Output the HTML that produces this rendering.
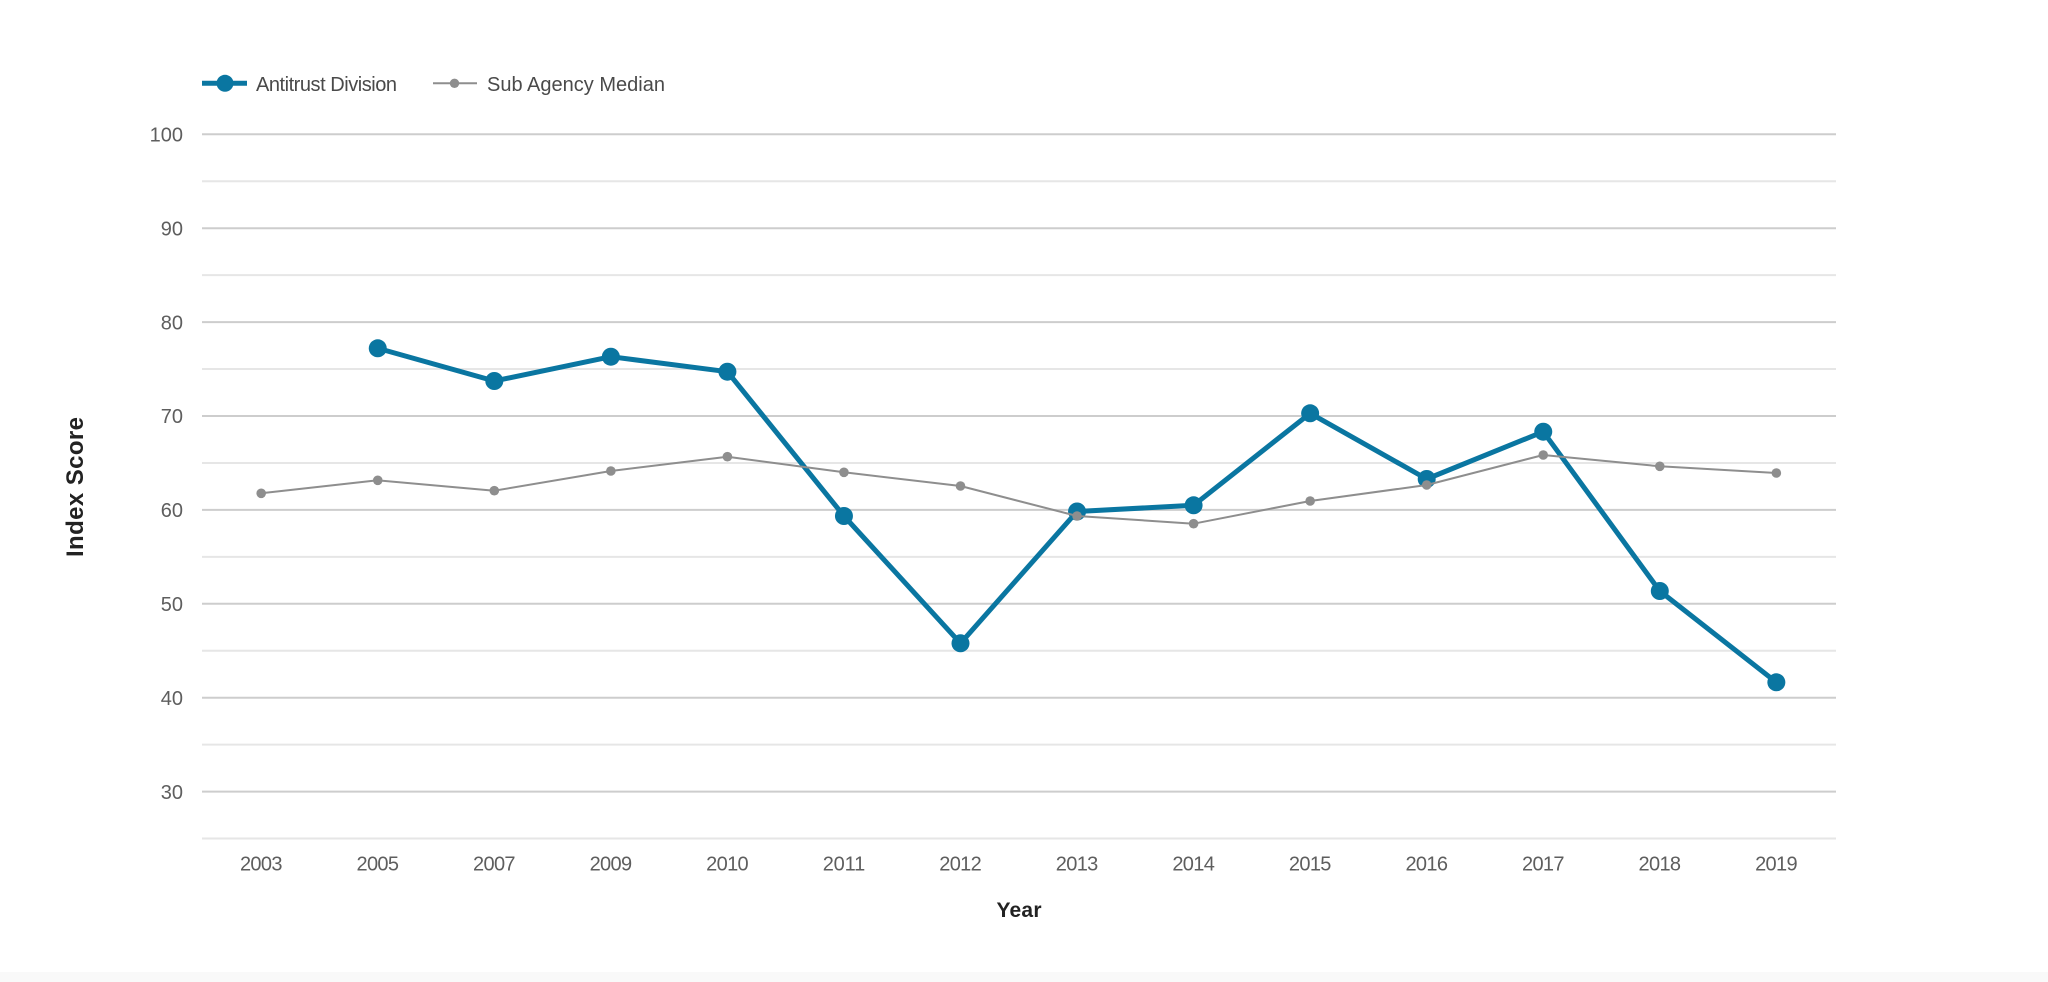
<!DOCTYPE html>
<html>
<head>
<meta charset="utf-8">
<style>
  html, body { margin: 0; padding: 0; background: #ffffff; }
  svg { display: block; }
  text { font-family: "Liberation Sans", Arial, sans-serif; }
</style>
</head>
<body>
<svg width="2048" height="982" viewBox="0 0 2048 982" xmlns="http://www.w3.org/2000/svg">
  <rect x="0" y="0" width="2048" height="982" fill="#ffffff"/>
  <rect x="0" y="972" width="2048" height="10" fill="#f9f9f9"/>

  <!-- minor gridlines -->
  <g stroke="#e6e6e6" stroke-width="2">
    <line x1="202" y1="181.25" x2="1836" y2="181.25"/>
    <line x1="202" y1="275.15" x2="1836" y2="275.15"/>
    <line x1="202" y1="369.05" x2="1836" y2="369.05"/>
    <line x1="202" y1="462.95" x2="1836" y2="462.95"/>
    <line x1="202" y1="556.85" x2="1836" y2="556.85"/>
    <line x1="202" y1="650.75" x2="1836" y2="650.75"/>
    <line x1="202" y1="744.65" x2="1836" y2="744.65"/>
    <line x1="202" y1="838.55" x2="1836" y2="838.55"/>
  </g>
  <!-- major gridlines -->
  <g stroke="#cdcdcd" stroke-width="2">
    <line x1="202" y1="134.3" x2="1836" y2="134.3"/>
    <line x1="202" y1="228.2" x2="1836" y2="228.2"/>
    <line x1="202" y1="322.1" x2="1836" y2="322.1"/>
    <line x1="202" y1="416.0" x2="1836" y2="416.0"/>
    <line x1="202" y1="509.9" x2="1836" y2="509.9"/>
    <line x1="202" y1="603.8" x2="1836" y2="603.8"/>
    <line x1="202" y1="697.7" x2="1836" y2="697.7"/>
    <line x1="202" y1="791.6" x2="1836" y2="791.6"/>
  </g>

  <!-- y tick labels -->
  <g fill="#5e5e5e" font-size="20" text-anchor="end">
    <text x="183" y="141.5">100</text>
    <text x="183" y="235.4">90</text>
    <text x="183" y="329.3">80</text>
    <text x="183" y="423.2">70</text>
    <text x="183" y="517.1">60</text>
    <text x="183" y="611.0">50</text>
    <text x="183" y="704.9">40</text>
    <text x="183" y="798.8">30</text>
  </g>

  <!-- x tick labels -->
  <g fill="#5e5e5e" font-size="20" text-anchor="middle">
    <text x="261.2" y="870.7" textLength="42.5">2003</text>
    <text x="377.75" y="870.7" textLength="42.5">2005</text>
    <text x="494.3" y="870.7" textLength="42.5">2007</text>
    <text x="610.85" y="870.7" textLength="42.5">2009</text>
    <text x="727.4" y="870.7" textLength="42.5">2010</text>
    <text x="843.95" y="870.7" textLength="42.5">2011</text>
    <text x="960.5" y="870.7" textLength="42.5">2012</text>
    <text x="1077.05" y="870.7" textLength="42.5">2013</text>
    <text x="1193.6" y="870.7" textLength="42.5">2014</text>
    <text x="1310.15" y="870.7" textLength="42.5">2015</text>
    <text x="1426.7" y="870.7" textLength="42.5">2016</text>
    <text x="1543.25" y="870.7" textLength="42.5">2017</text>
    <text x="1659.8" y="870.7" textLength="42.5">2018</text>
    <text x="1776.35" y="870.7" textLength="42.5">2019</text>
  </g>

  <!-- axis titles -->
  <text x="1019" y="917" font-size="21" font-weight="bold" fill="#222222" text-anchor="middle" textLength="45">Year</text>
  <text transform="translate(83,487) rotate(-90)" x="0" y="0" font-size="24" font-weight="bold" fill="#222222" text-anchor="middle" textLength="140">Index Score</text>

  <!-- legend -->
  <line x1="202" y1="83.3" x2="247" y2="83.3" stroke="#0a76a1" stroke-width="5"/>
  <circle cx="225" cy="83.3" r="8.5" fill="#0a76a1"/>
  <text x="256" y="91" font-size="20" fill="#4a4a4a" textLength="141">Antitrust Division</text>
  <line x1="433" y1="83.3" x2="477" y2="83.3" stroke="#8e8e8e" stroke-width="2"/>
  <circle cx="454.5" cy="83.3" r="4.7" fill="#8e8e8e"/>
  <text x="487" y="91" font-size="20" fill="#4a4a4a" textLength="178">Sub Agency Median</text>

  <!-- Antitrust Division series -->
  <polyline fill="none" stroke="#0a76a1" stroke-width="5" stroke-linejoin="round"
    points="377.75,348.3 494.3,381 610.85,356.7 727.4,371.7 843.95,516 960.5,643.3 1077.05,511.5 1193.6,505.3 1310.15,413.3 1426.7,479 1543.25,431.7 1659.8,591 1776.35,682.3"/>
  <g fill="#0a76a1">
    <circle cx="377.75" cy="348.3" r="9"/>
    <circle cx="494.3" cy="381" r="9"/>
    <circle cx="610.85" cy="356.7" r="9"/>
    <circle cx="727.4" cy="371.7" r="9"/>
    <circle cx="843.95" cy="516" r="9"/>
    <circle cx="960.5" cy="643.3" r="9"/>
    <circle cx="1077.05" cy="511.5" r="9"/>
    <circle cx="1193.6" cy="505.3" r="9"/>
    <circle cx="1310.15" cy="413.3" r="9"/>
    <circle cx="1426.7" cy="479" r="9"/>
    <circle cx="1543.25" cy="431.7" r="9"/>
    <circle cx="1659.8" cy="591" r="9"/>
    <circle cx="1776.35" cy="682.3" r="9"/>
  </g>

  <!-- Sub Agency Median series -->
  <polyline fill="none" stroke="#8e8e8e" stroke-width="2" stroke-linejoin="round"
    points="261.2,493.3 377.75,480.3 494.3,490.7 610.85,471 727.4,456.7 843.95,472.3 960.5,486 1077.05,516 1193.6,523.7 1310.15,501 1426.7,485 1543.25,455 1659.8,466.3 1776.35,473"/>
  <g fill="#8e8e8e">
    <circle cx="261.2" cy="493.3" r="4.8"/>
    <circle cx="377.75" cy="480.3" r="4.8"/>
    <circle cx="494.3" cy="490.7" r="4.8"/>
    <circle cx="610.85" cy="471" r="4.8"/>
    <circle cx="727.4" cy="456.7" r="4.8"/>
    <circle cx="843.95" cy="472.3" r="4.8"/>
    <circle cx="960.5" cy="486" r="4.8"/>
    <circle cx="1077.05" cy="516" r="4.8"/>
    <circle cx="1193.6" cy="523.7" r="4.8"/>
    <circle cx="1310.15" cy="501" r="4.8"/>
    <circle cx="1426.7" cy="485" r="4.8"/>
    <circle cx="1543.25" cy="455" r="4.8"/>
    <circle cx="1659.8" cy="466.3" r="4.8"/>
    <circle cx="1776.35" cy="473" r="4.8"/>
  </g>
</svg>
</body>
</html>
